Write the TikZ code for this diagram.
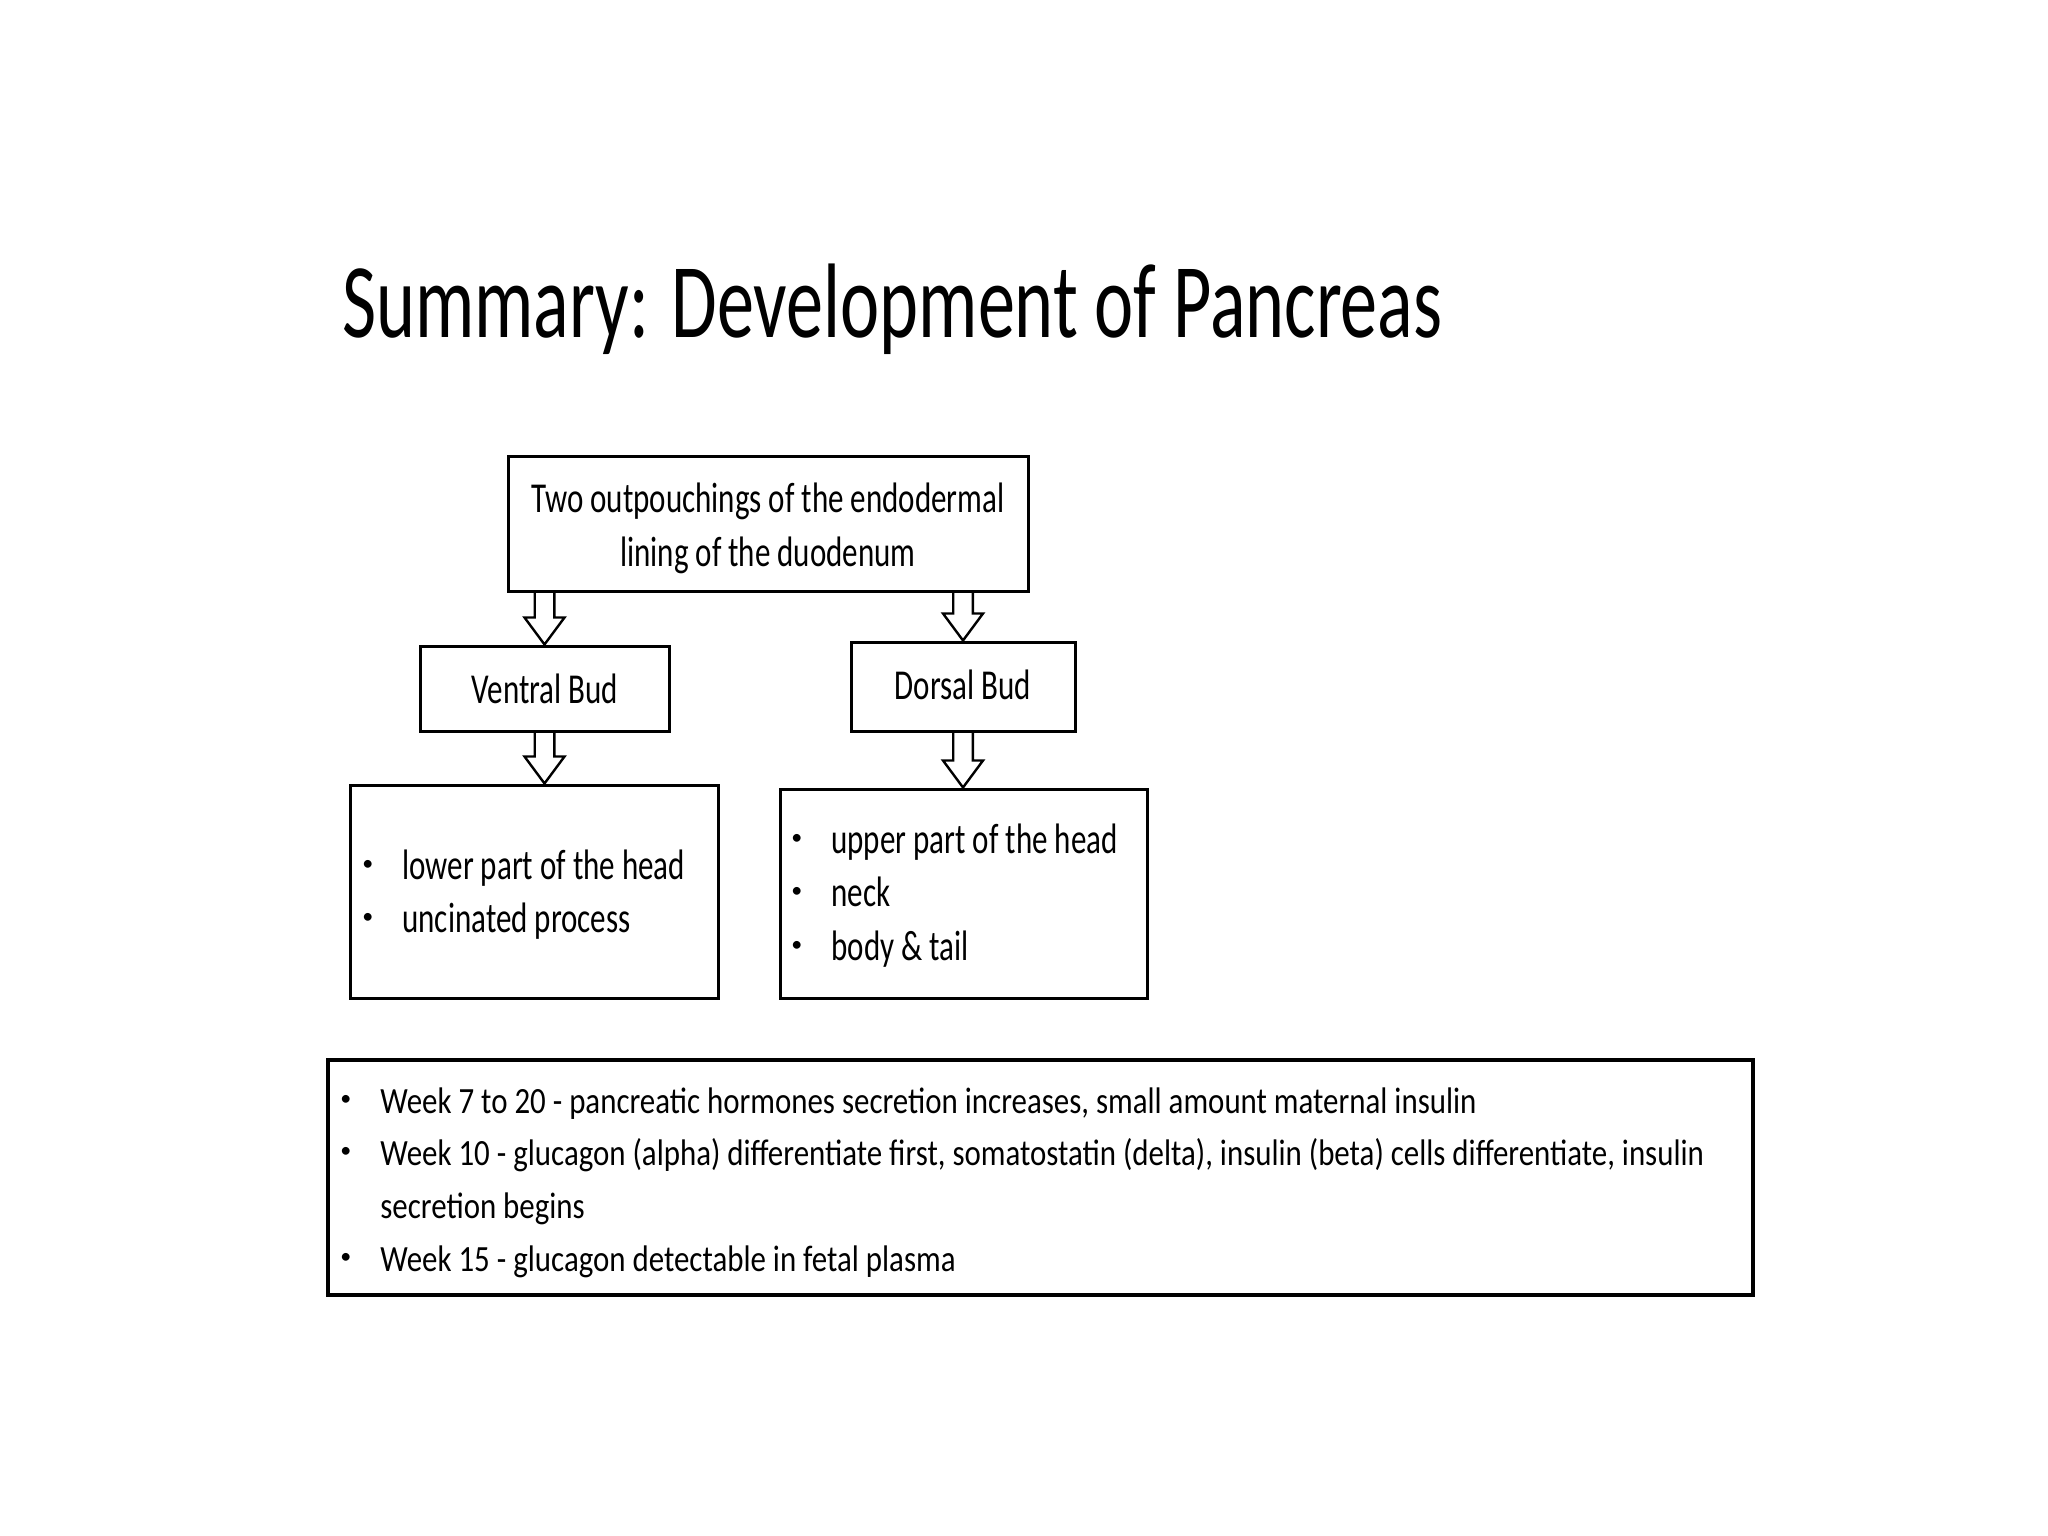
\documentclass[tikz,border=0pt]{standalone}
\usepackage{fontspec}
\setmainfont{Carlito}[FakeStretch=0.75]
\newfontfamily\titlefont{Carlito}[FakeStretch=0.70]
\newfontfamily\boxfont{Carlito}[FakeStretch=0.728]
\newfontfamily\smallfont{Carlito}[FakeStretch=0.835]
\newfontfamily\bulfont{Carlito}
\usetikzlibrary{fit,calc}
\tikzset{
  box/.style={draw=black, line width=1.5pt, inner sep=0pt},
  bigbox/.style={draw=black, line width=2pt, inner sep=0pt},
  arr/.style={draw=black, line width=1.2pt, line join=miter},
  txt/.style={inner sep=0pt, font=\boxfont\fontsize{21.3}{25}\selectfont},
  small/.style={inner sep=0pt, font=\smallfont\fontsize{18.5}{22}\selectfont},
  bul/.style={inner sep=0pt, anchor=base west, font=\bulfont\fontsize{11}{12}\selectfont},
}
\newcommand{\blockarr}[2]{%
  \draw[arr] let \p1=(#1), \p2=(#2) in
    (\x1-4.9pt,\y1) -- (\x1-4.9pt,\y2+13.5pt) -- (\x1-10pt,\y2+13.5pt) -- (\x1,\y2)
    -- (\x1+10pt,\y2+13.5pt) -- (\x1+4.9pt,\y2+13.5pt) -- (\x1+4.9pt,\y1);}
\begin{document}
\begin{tikzpicture}[x=0.5pt,y=-0.5pt]
\useasboundingbox[fill=white] (0,0) rectangle (2048,1535);
% title
\node[inner sep=0pt, anchor=base west, font=\titlefont\fontsize{53}{60}\selectfont] (title) at (342,337) {Summary: Development of Pancreas};
% boxes
\node[box, fit={(508,456) (1028,591)}] (top) {};
\node[box, fit={(420,646) (669,731)}] (vb) {};
\node[box, fit={(851,642) (1075,731)}] (db) {};
\node[box, fit={(350,785) (718,998)}] (lb) {};
\node[box, fit={(780,789) (1147,998)}] (rb) {};
\node[bigbox, fit={(328,1060) (1753,1295)}] (bb) {};
% top text
\node[txt, anchor=base] (t1) at (768,512) {Two outpouchings of the endodermal};
\node[txt, anchor=base] (t2) at (768,566) {lining of the duodenum};
\node[txt, anchor=base] (vt) at (545,703) {Ventral Bud};
\node[txt, anchor=base] (dt) at (963,699) {Dorsal Bud};
% left list
\node[bul] (lb1) at (362,870) {•};
\node[txt, anchor=base west] (l1) at (402,879) {lower part of the head};
\node[bul] (lb2) at (362,923) {•};
\node[txt, anchor=base west] (l2) at (402,932) {uncinated process};
% right list
\node[bul] (rb1) at (791,844) {•};
\node[txt, anchor=base west] (r1) at (831,853) {upper part of the head};
\node[bul] (rb2) at (791,897) {•};
\node[txt, anchor=base west] (r2) at (831,906) {neck};
\node[bul] (rb3) at (791,951) {•};
\node[txt, anchor=base west] (r3) at (831,960) {body \& tail};
% bottom list
\node[bul] (bb1) at (340,1105) {•};
\node[small, anchor=base west] (b1) at (380,1113) {Week 7 to 20 - pancreatic hormones secretion increases, small amount maternal insulin};
\node[bul] (bb2) at (340,1157) {•};
\node[small, anchor=base west] (b2) at (380,1165) {Week 10 - glucagon (alpha) differentiate first, somatostatin (delta), insulin (beta) cells differentiate, insulin};
\node[small, anchor=base west] (b3) at (380,1218) {secretion begins};
\node[bul] (bb4) at (340,1263) {•};
\node[small, anchor=base west] (b4) at (380,1271) {Week 15 - glucagon detectable in fetal plasma};
% arrows
\blockarr{top.south -| vb.north}{vb.north}
\blockarr{top.south -| db.north}{db.north}
\blockarr{vb.south}{vb.south |- lb.north}
\blockarr{db.south}{db.south |- rb.north}
\end{tikzpicture}
\end{document}
